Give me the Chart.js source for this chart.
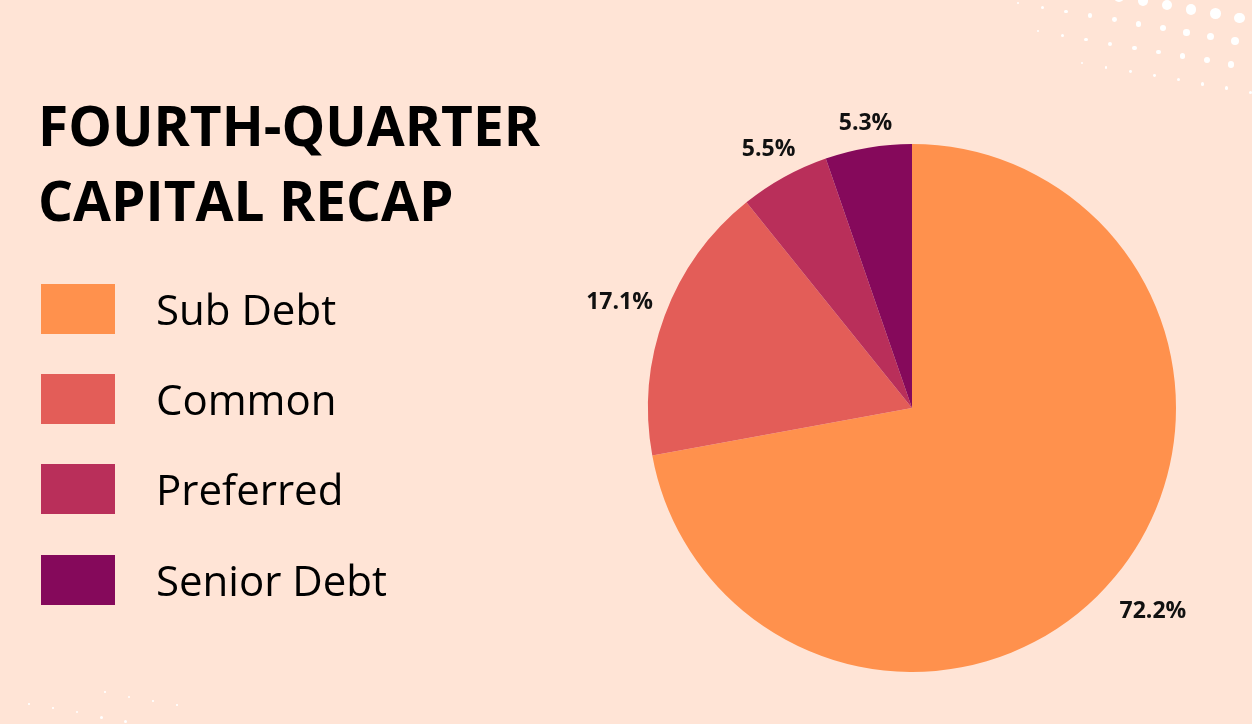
<!DOCTYPE html>
<html>
<head>
<meta charset="utf-8">
<script src="https://cdn.jsdelivr.net/npm/chart.js@4.4.1/dist/chart.umd.min.js"></script>
<style>
  html, body { margin: 0; padding: 0; }
  body { width: 1252px; height: 724px; background: #FFE4D6; position: relative; overflow: hidden; font-family: "Open Sans", sans-serif; }
  #chart { position: absolute; left: 0; top: 0; }
  .title { position: absolute; left: 38px; top: 87px; font-family: "Open Sans", sans-serif; font-weight: 700; font-size: 55px; line-height: 75px; color: #000; white-space: nowrap; }
  .legend-row { position: absolute; left: 41px; height: 50px; }
  .legend-box { position: absolute; left: 0; top: 0; width: 74px; height: 50px; }
  .legend-text { position: absolute; left: 115px; top: 0; font-size: 42px; line-height: 50px; color: #000; white-space: nowrap; }
  .dot { position: absolute; background: #fff; border-radius: 50%; }
</style>
</head>
<body>
<div id="deco"></div>
<canvas id="chart" width="1252" height="724"></canvas>
<div class="title" id="title"></div>
<div id="legend"></div>
<script>
const titleLines = ["FOURTH-QUARTER", "CAPITAL RECAP"];
const categories = ["Sub Debt", "Common", "Preferred", "Senior Debt"];
const shares = [72.2, 17.1, 5.5, 5.3];
const colors = ["#FF914D", "#E35D58", "#B92F5A", "#85095B"];

// Title
document.getElementById('title').innerHTML = titleLines.join('<br>');

// Legend (built from the data arrays)
const legendTops = [284, 374, 464, 555];
const legend = document.getElementById('legend');
categories.forEach((c, i) => {
  const row = document.createElement('div');
  row.className = 'legend-row';
  row.style.top = legendTops[i] + 'px';
  row.innerHTML = '<div class="legend-box" style="background:' + colors[i] + '"></div><div class="legend-text">' + c + '</div>';
  legend.appendChild(row);
});

// Decorative dots (top-right)
const deco = document.getElementById('deco');
function addDot(x, y, d) {
  const e = document.createElement('div');
  e.className = 'dot';
  e.style.left = (x - d / 2) + 'px';
  e.style.top = (y - d / 2) + 'px';
  e.style.width = d + 'px';
  e.style.height = d + 'px';
  deco.appendChild(e);
}
const rowStarts = [[1119, -3, 8, 11], [1018, 3, 2, 8], [1038, 31, 2, 6.5], [1082, 63, 2, 3.5]];
rowStarts.forEach(([x0, y0, dMin, dMax]) => {
  for (let k = 0; k < 12; k++) {
    const x = x0 + k * 24.1, y = y0 + k * 4.2;
    if (x > 1260) break;
    const t = Math.min(1, (x - 1000) / 240);
    addDot(x, y, dMin + (dMax - dMin) * t);
  }
});
// faint dots (bottom-left)
[[29,704,1.5],[53,708,1.5],[77,712,2],[101,717,3],[125,721,3],[105,692,1.5],[129,697,2],[153,701,1.5],[177,705,1.5]].forEach(p => addDot(p[0], p[1], p[2]));

// Outside percentage labels
const outsideLabels = {
  id: 'outsideLabels',
  afterDatasetsDraw(chart) {
    const ctx = chart.ctx;
    const meta = chart.getDatasetMeta(0);
    ctx.save();
    ctx.font = '700 23px "Open Sans", sans-serif';
    ctx.fillStyle = '#111';
    ctx.textAlign = 'center';
    ctx.textBaseline = 'middle';
    meta.data.forEach((arc, i) => {
      const p = arc.getProps(['x', 'y', 'startAngle', 'endAngle', 'outerRadius'], true);
      const mid = (p.startAngle + p.endAngle) / 2;
      const txt = shares[i].toFixed(1) + '%';
      const w = ctx.measureText(txt).width;
      const h = 17;
      const ext = Math.abs(Math.cos(mid)) * w / 2 + Math.abs(Math.sin(mid)) * h / 2;
      const r = p.outerRadius + 16 + ext;
      ctx.fillText(txt, p.x + Math.cos(mid) * r + 2, p.y + Math.sin(mid) * r + 4);
    });
    ctx.restore();
  }
};

new Chart(document.getElementById('chart'), {
  type: 'pie',
  data: {
    labels: categories,
    datasets: [{
      data: shares,
      backgroundColor: colors,
      borderWidth: 0
    }]
  },
  options: {
    responsive: false,
    animation: false,
    layout: { padding: { left: 648, right: 76, top: 144, bottom: 52 } },
    plugins: {
      legend: { display: false },
      tooltip: { enabled: false }
    }
  },
  plugins: [outsideLabels]
});
</script>
</body>
</html>
